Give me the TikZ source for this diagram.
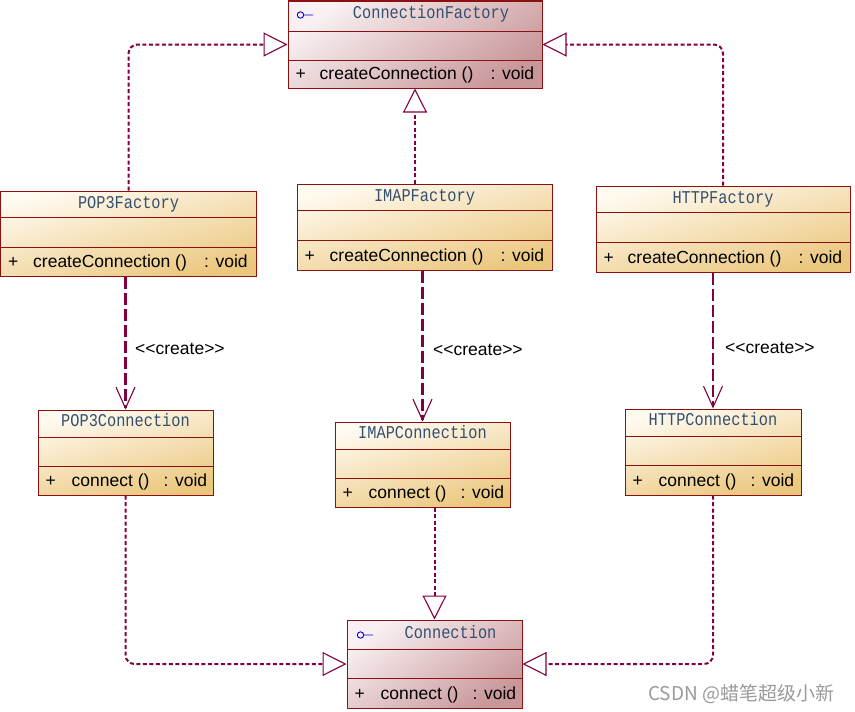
\documentclass[tikz,border=0pt]{standalone}
\usepackage{fontspec}
\setmainfont{Liberation Sans}
\newfontfamily\titlefont[FakeStretch=0.85]{Liberation Mono}
\newfontfamily\cjkfont{Noto Sans CJK SC}
\usetikzlibrary{arrows.meta,calc}
\definecolor{bordc}{HTML}{8B1010}
\definecolor{linec}{HTML}{800040}
\definecolor{titc}{HTML}{34506E}
\definecolor{ifA}{HTML}{F8F0F2}
\definecolor{ifB}{HTML}{C9979A}
\definecolor{clA}{HTML}{FFFAF0}
\definecolor{clB}{HTML}{EBC77E}
\definecolor{wmc}{HTML}{9A9A9A}
\newcommand\opline[5]{%
  \node[optext] (#1-p) at ($(#1.south west)+(#2,-9)$) {+};
  \node[optext] (#1-o) at ($(#1.south west)+(#3,-9)$) {#5};
  \node[optext] (#1-v) at ($(#1.south west)+(#4,-9)$) {: void};}
\newcommand\seps[3]{%
  \draw[sepline] (#1.west |- 0,#2) -- (#1.east |- 0,#2);
  \draw[sepline] (#1.west |- 0,#3) -- (#1.east |- 0,#3);}
\begin{document}
\begin{tikzpicture}[x=1pt,y=-1pt,
  umlbox/.style={draw=bordc, line width=1pt, inner sep=0pt, rectangle},
  ifbox/.style={umlbox, top color=ifA, bottom color=ifB, shading angle=35},
  clbox/.style={umlbox, top color=clA, bottom color=clB, shading angle=15},
  sepline/.style={draw=bordc, line width=1pt},
  optext/.style={anchor=base west, inner sep=0pt, font=\fontsize{17.5}{20}\selectfont},
  titletext/.style={anchor=base, inner sep=0pt, text=titc, font=\titlefont\fontsize{18}{20}\selectfont},
  lbl/.style={anchor=base west, inner sep=0pt, font=\fontsize{17.5}{20}\selectfont},
  realize/.style={draw=linec, line width=2pt, dash pattern=on 4pt off 2.5pt, rounded corners=9pt,
    -{Triangle[open, length=24pt, width=24pt, line width=1.1pt, fill=white]}},
  createarr/.style={draw=linec, line width=2.3pt, dash pattern=on 12pt off 4pt,
    -{Straight Barb[length=21pt, width=19pt, line width=1.1pt]}},
  icon/.style={draw=blue!80!black, line width=0.9pt}
]
\useasboundingbox (0,0) rectangle (855,712);
\fill[white] (0,0) rectangle (855,712);

% boxes
\node[ifbox, minimum width=254pt, minimum height=87pt] (cf) at (415,44.5) {};
\node[clbox, minimum width=256pt, minimum height=85pt] (pf) at (128.5,233.5) {};
\node[clbox, minimum width=255pt, minimum height=86pt] (imf) at (424.5,227) {};
\node[clbox, minimum width=254pt, minimum height=86pt] (hf) at (723,229) {};
\node[clbox, minimum width=175pt, minimum height=85pt] (pc) at (125.5,452.5) {};
\node[clbox, minimum width=175pt, minimum height=85pt] (imc) at (422.5,464.5) {};
\node[clbox, minimum width=176pt, minimum height=86pt] (hc) at (713,452) {};
\node[ifbox, minimum width=175pt, minimum height=88pt] (con) at (434.5,664) {};

\seps{cf}{31}{60}
\seps{pf}{217}{247}
\seps{imf}{210}{240}
\seps{hf}{212}{242}
\seps{pc}{437}{466}
\seps{imc}{449}{478}
\seps{hc}{436}{465}
\seps{con}{649}{678}

% titles
\node[titletext] (cf-t) at ($(cf.north)+(16,18)$) {ConnectionFactory};
\node[titletext] (pf-t) at ($(pf.north)+(0,18)$) {POP3Factory};
\node[titletext] (imf-t) at ($(imf.north)+(0,18)$) {IMAPFactory};
\node[titletext] (hf-t) at ($(hf.north)+(0,18)$) {HTTPFactory};
\node[titletext] (pc-t) at ($(pc.north)+(0,17)$) {POP3Connection};
\node[titletext] (imc-t) at ($(imc.north)+(0,17)$) {IMAPConnection};
\node[titletext] (hc-t) at ($(hc.north)+(0,17)$) {HTTPConnection};
\node[titletext] (con-t) at ($(con.north)+(16,19)$) {Connection};

% interface icons
\draw[icon] (300.5,15) circle (3.2pt) (303.7,15) -- (313,15);
\draw[icon] (360.5,635) circle (3.2pt) (363.7,635) -- (373,635);

% operations
\opline{cf}{8}{32}{203}{createConnection ()}
\opline{pf}{8}{33}{204}{createConnection ()}
\opline{imf}{8}{33}{204}{createConnection ()}
\opline{hf}{8}{32}{203}{createConnection ()}
\opline{pc}{8}{34}{126}{connect ()}
\opline{imc}{8}{34}{126}{connect ()}
\opline{hc}{8}{34}{126}{connect ()}
\opline{con}{8}{34}{126}{connect ()}

% realizations
\draw[realize] (pf.north) |- (cf.west);
\draw[realize] (hf.north) |- (cf.east);
\draw[realize] (imf.north -| cf.south) -- (cf.south);
\draw[realize] (pc.south) |- (con.west);
\draw[realize] (hc.south) |- (con.east);
\draw[realize] (imc.south -| con.north) -- (con.north);

% create dependencies
\draw[createarr] (pf.south -| pc.north) -- (pc.north);
\draw[createarr] (imf.south -| imc.north) -- (imc.north);
\draw[createarr] (hf.south -| hc.north) -- (hc.north);
\node[lbl] (l1) at (135,354) {<{}<create>{}>};
\node[lbl] (l2) at (433,355) {<{}<create>{}>};
\node[lbl] (l3) at (725,353) {<{}<create>{}>};

% watermark
\node[anchor=base west, inner sep=0pt, text=wmc, font=\cjkfont\fontsize{19}{22}\selectfont] (wm) at (648,700) {CSDN @蜡笔超级小新};
\end{tikzpicture}
\end{document}
